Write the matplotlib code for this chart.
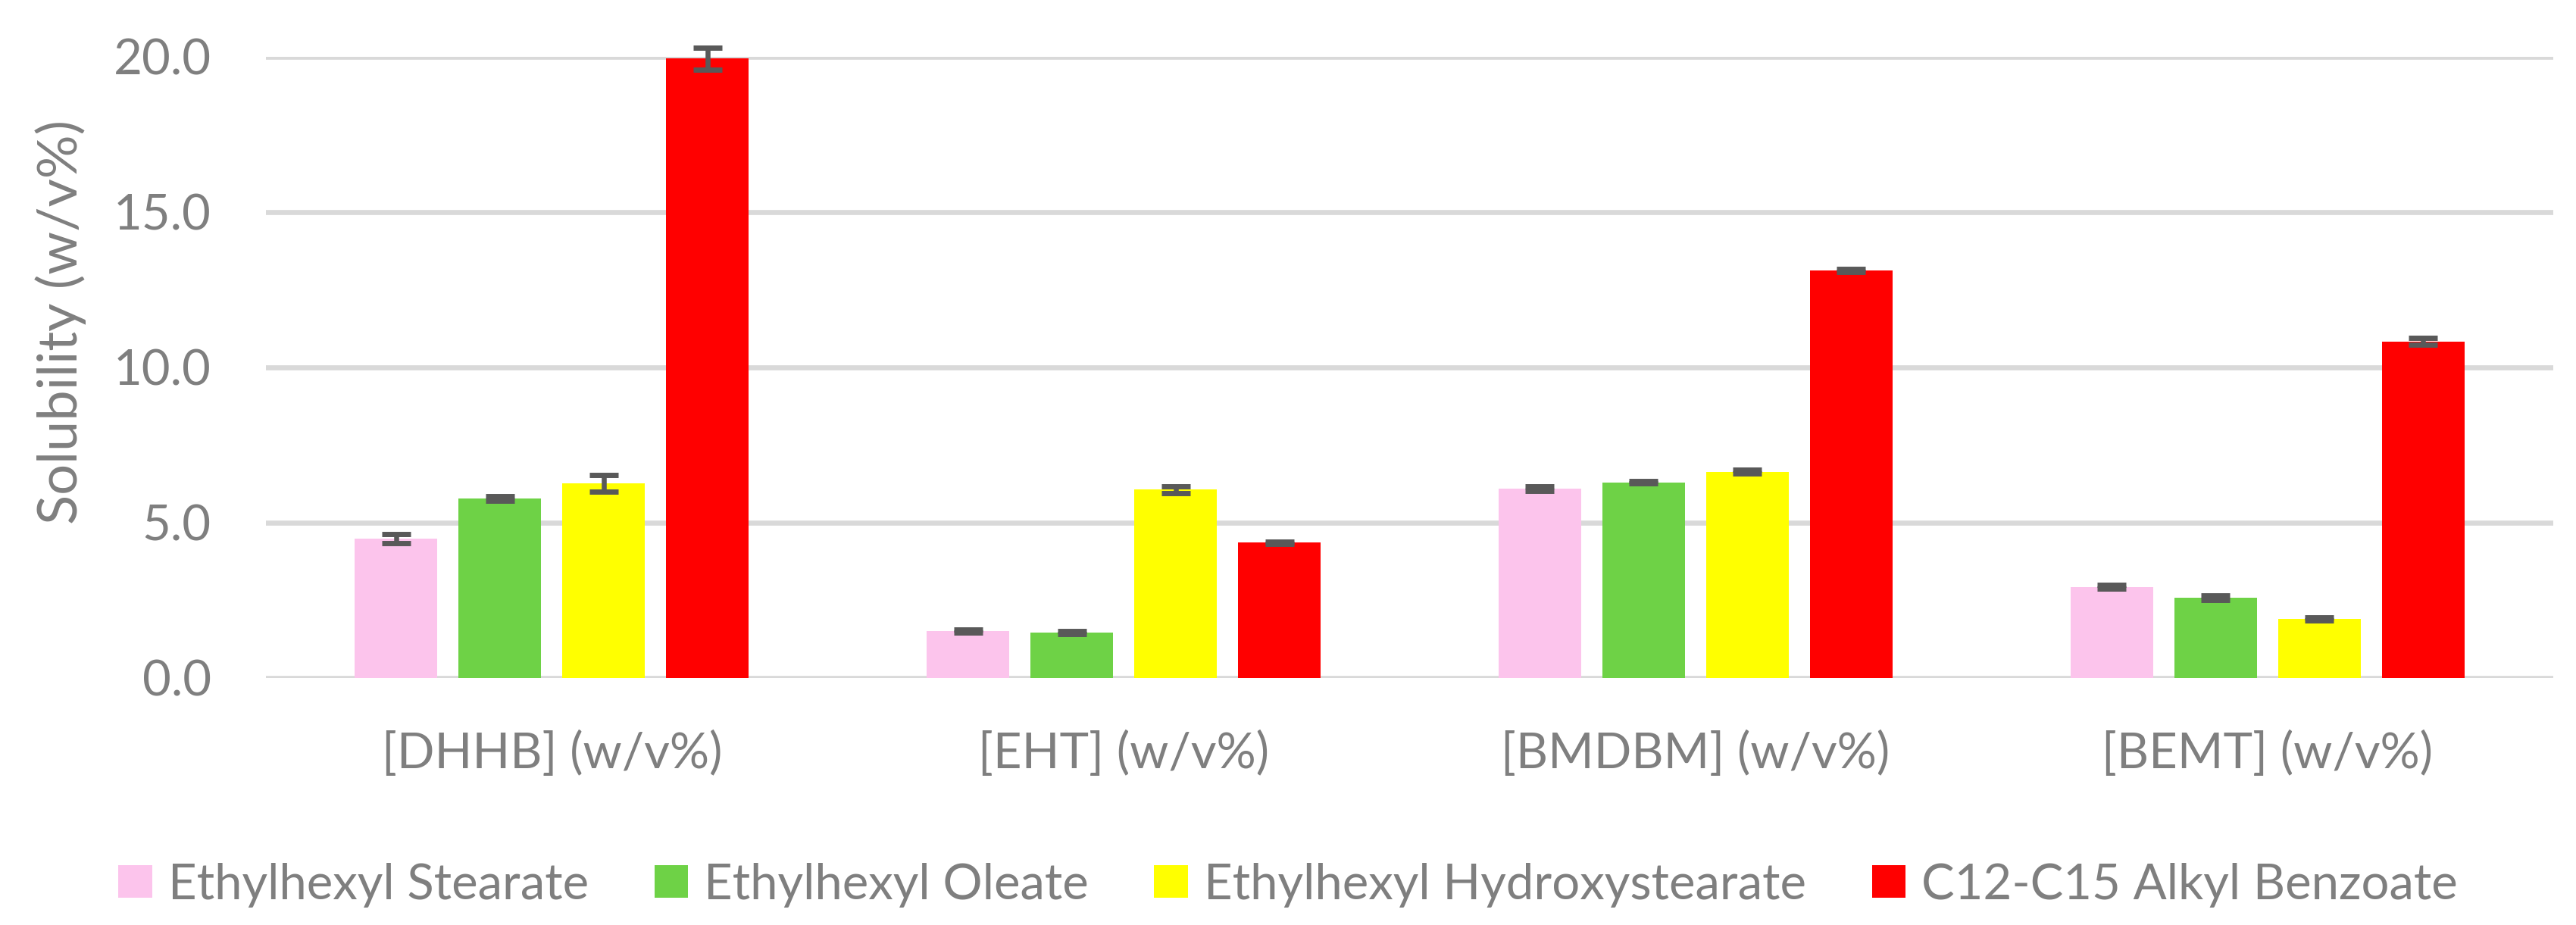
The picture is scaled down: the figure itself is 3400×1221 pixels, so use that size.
import numpy as np
import matplotlib
matplotlib.use("Agg")
import matplotlib.pyplot as plt
from matplotlib.patches import Patch

plt.rcParams['font.family'] = ['Lato', 'DejaVu Sans']

categories = ["[DHHB] (w/v%)", "[EHT] (w/v%)", "[BMDBM] (w/v%)", "[BEMT] (w/v%)"]
solvents = ["Ethylhexyl Stearate", "Ethylhexyl Oleate",
            "Ethylhexyl Hydroxystearate", "C12-C15 Alkyl Benzoate"]

# solubility per solvent, one value per UV filter
stearate = [4.47, 1.50, 6.09, 2.92]
oleate = [5.77, 1.45, 6.29, 2.58]
hydroxystearate = [6.26, 6.06, 6.63, 1.89]
benzoate = [19.93, 4.35, 13.11, 10.82]

stearate_err = [0.14, 0.04, 0.07, 0.06]
oleate_err = [0.08, 0.04, 0.04, 0.07]
hydroxystearate_err = [0.26, 0.11, 0.06, 0.05]
benzoate_err = [0.35, 0.04, 0.05, 0.11]

colors = ["#FCC4EC", "#6ED246", "#FFFF00", "#FF0000"]
text_col = "#7F7F7F"

fig = plt.figure(figsize=(34, 12.21), dpi=100)
ax = fig.add_axes([351 / 3400, 326.5 / 1221, 3019 / 3400, 820 / 1221])

x = np.arange(len(categories))
width = 0.1445
step = 0.1816
series = [stearate, oleate, hydroxystearate, benzoate]
errors = [stearate_err, oleate_err, hydroxystearate_err, benzoate_err]

for i, (vals, errs) in enumerate(zip(series, errors)):
    pos = x + (i - 1.5) * step
    ax.bar(pos, vals, width, color=colors[i], zorder=3)
    ax.errorbar(pos, vals, yerr=errs, fmt="none", ecolor="#595959",
                elinewidth=4.7, capsize=14, capthick=5, zorder=4, clip_on=False)

ax.set_xlim(-0.5, 3.5)
ax.set_ylim(0, 20)
ax.set_yticks([0, 5, 10, 15, 20])
ax.set_yticklabels(["0.0", "5.0", "10.0", "15.0", "20.0"])
ax.set_xticks(x)
ax.set_xticklabels(categories)
ax.tick_params(axis="both", length=0, labelsize=47, labelcolor=text_col)
ax.tick_params(axis="y", pad=52)
ax.tick_params(axis="x", pad=50)

ax.grid(axis="y", color="#D9D9D9", linewidth=4.8, zorder=0)
ax.set_axisbelow(True)
for s in ax.spines.values():
    s.set_visible(False)

fig.text(80 / 3400, 1 - 424.5 / 1221, "Solubility (w/v%)", rotation=90,
         ha="center", va="center", fontsize=52, color=text_col)

handles = [Patch(facecolor=c, edgecolor="none") for c in colors]
fig.legend(handles, solvents, loc="center", bbox_to_anchor=(0.5, 53 / 1221),
           ncol=4, frameon=False, fontsize=47, labelcolor=text_col,
           handlelength=0.68, handleheight=0.63, handletextpad=0.32,
           columnspacing=1.33, borderaxespad=0, borderpad=0)

fig.savefig("out.png", dpi=100, facecolor="white")
